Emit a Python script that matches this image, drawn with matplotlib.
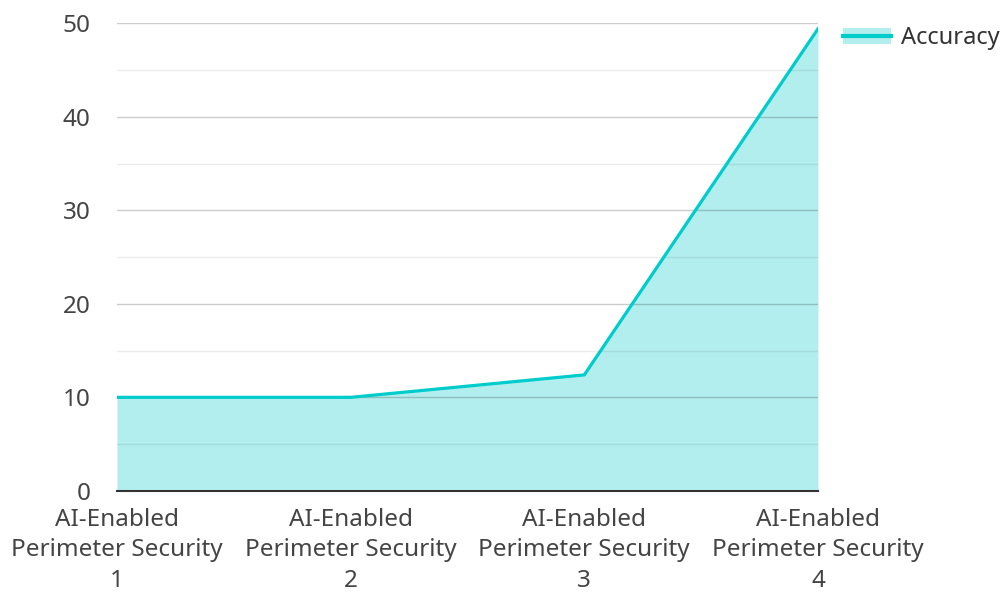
import matplotlib.pyplot as plt
from matplotlib.patches import Patch
from matplotlib.lines import Line2D
from matplotlib.ticker import MultipleLocator

plt.rcParams['font.family'] = ['Noto Sans', 'DejaVu Sans']

categories = ["AI-Enabled\nPerimeter Security\n1", "AI-Enabled\nPerimeter Security\n2",
              "AI-Enabled\nPerimeter Security\n3", "AI-Enabled\nPerimeter Security\n4"]
accuracy = [10, 10, 12.4, 49.4]

line_color = "#00CCCC"
fill_color = "#B2EEEE"

fig = plt.figure(figsize=(10.08, 5.95), dpi=100)
ax = fig.add_axes([0.116, 0.175, 0.6955, 0.786])

x = list(range(len(categories)))
ax.fill_between(x, accuracy, 0, color=fill_color, linewidth=0, zorder=1)
ax.plot(x, accuracy, color=line_color, linewidth=2.3, zorder=3)

ax.set_xlim(0, 3)
ax.set_ylim(0, 50)
ax.yaxis.set_major_locator(MultipleLocator(10))
ax.yaxis.set_minor_locator(MultipleLocator(5))
ax.grid(axis='y', which='major', color='black', alpha=0.2, linewidth=1, zorder=2)
ax.grid(axis='y', which='minor', color='black', alpha=0.08, linewidth=1, zorder=2)
ax.set_axisbelow(False)

ax.set_xticks(x)
ax.set_xticklabels(categories, fontsize=17.5, color='#444444', linespacing=1.37)
ax.tick_params(axis='y', labelsize=17.5, labelcolor='#444444', length=0, pad=19)
ax.tick_params(axis='y', which='minor', length=0)
ax.tick_params(axis='x', length=0, pad=12)

for side in ['top', 'right', 'left']:
    ax.spines[side].set_visible(False)
ax.spines['bottom'].set_color('#333333')
ax.spines['bottom'].set_linewidth(1.5)
ax.spines['bottom'].set_zorder(4)

handle = (Patch(facecolor=fill_color, edgecolor='none'),
          Line2D([], [], color=line_color, linewidth=3))
fig.legend([handle], ["Accuracy"], loc='upper left', bbox_to_anchor=(0.836, 0.956),
           frameon=False, fontsize=17, handlelength=2.05, handletextpad=0.4,
           borderpad=0, borderaxespad=0, labelcolor='#333333')

fig.savefig("out.png", dpi=100)
